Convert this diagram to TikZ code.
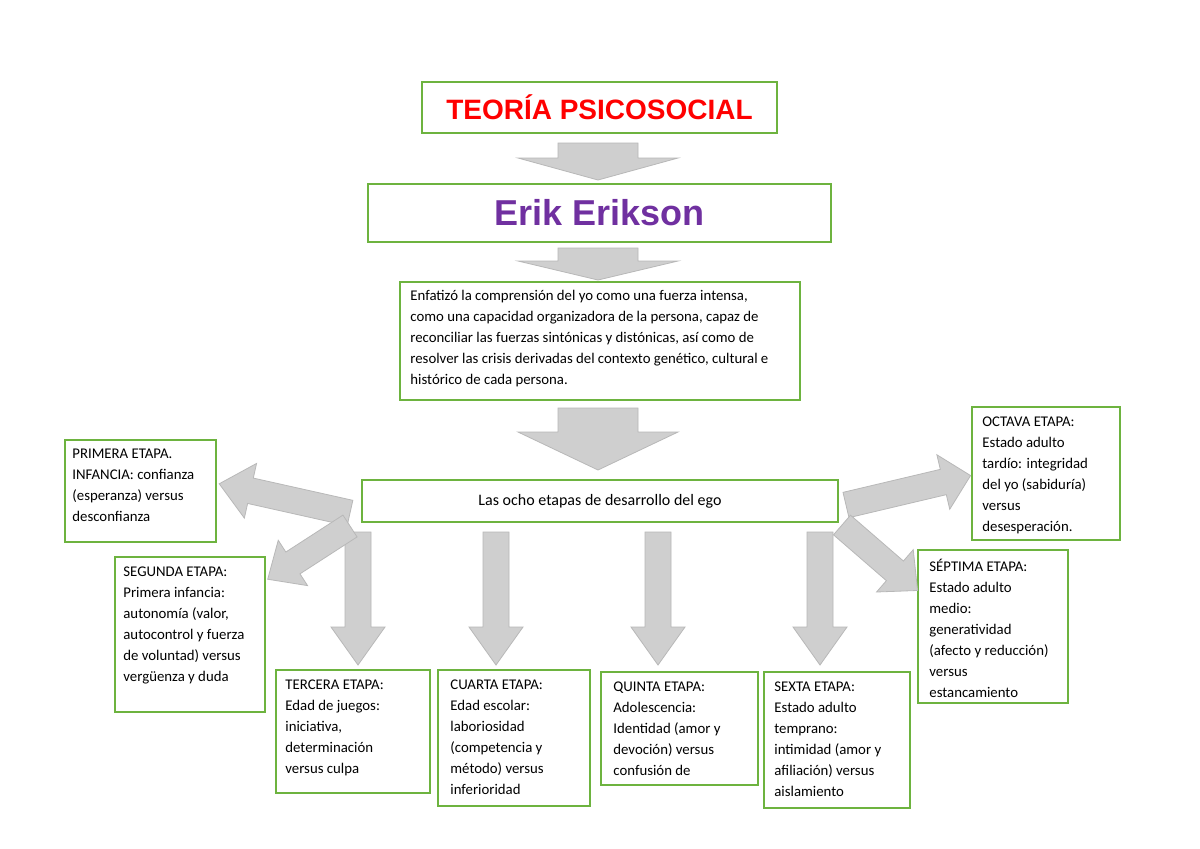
\documentclass[tikz,border=0pt]{standalone}
\usepackage{fontspec}
\setmainfont{Carlito}
\newfontfamily\arialf{Liberation Sans}
\begin{document}
\begin{tikzpicture}[x=0.5pt,y=-0.5pt,
  gbox/.style={draw=gr,line width=1pt,inner sep=0pt,minimum width=#1},
  txt/.style={anchor=north west,align=left,inner sep=0pt,font=\fontsize{7.4}{10.5}\selectfont},
  arr/.style={fill=ag,draw=ad,line width=0.4pt}]
\definecolor{gr}{HTML}{6DB33F}
\definecolor{ag}{HTML}{CFCFCF}
\definecolor{ad}{HTML}{B8B8B8}
\definecolor{pur}{HTML}{7030A0}
\useasboundingbox (0,0) rectangle (1200,848);
\fill[white] (0,0) rectangle (1200,848);
\newcommand\fatarr[7]{\begin{scope}[shift={(#1,#2)},rotate=#3]
\draw[arr] (0,-#5) -- ({#4-#7},-#5) -- ({#4-#7},-#6) -- (#4,0) -- ({#4-#7},#6) -- ({#4-#7},#5) -- (0,#5) -- cycle;\end{scope}}
% boxes
\node[gbox=177.5pt,minimum height=25.5pt] (title) at (599.5,107.5) {\arialf\bfseries\fontsize{14}{16}\selectfont\color{red}TEORÍA PSICOSOCIAL};
\node[gbox=231.5pt,minimum height=29pt] (erik) at (599.5,213) {\arialf\bfseries\fontsize{18}{20}\selectfont\color{pur}Erik Erikson};
\node[gbox=200pt,minimum height=59pt] (desc) at (600,341) {};
\node[txt] (desct) at (410,290) {Enfatizó la comprensión del yo como una fuerza intensa,\\como una capacidad organizadora de la persona, capaz de\\reconciliar las fuerzas sintónicas y distónicas, así como de\\resolver las crisis derivadas del contexto genético, cultural e\\histórico de cada persona.};
\node[gbox=238pt,minimum height=21pt] (ocho) at (600,501) {\fontsize{8}{10}\selectfont Las ocho etapas de desarrollo del ego};
\node[gbox=75.5pt,minimum height=51pt] (p1) at (140.5,491) {};
\node[txt] at (72,449) {PRIMERA ETAPA.\\INFANCIA: confianza\\(esperanza) versus\\desconfianza};
\node[gbox=75pt,minimum height=77.5pt] (p2) at (190,634.5) {};
\node[txt] at (123,566) {SEGUNDA ETAPA:\\Primera infancia:\\autonomía (valor,\\autocontrol y fuerza\\de voluntad) versus\\vergüenza y duda};
\node[gbox=77pt,minimum height=61.5pt] (p3) at (353,731.5) {};
\node[txt] at (285,679) {TERCERA ETAPA:\\Edad de juegos:\\iniciativa,\\determinación\\versus culpa};
\node[gbox=76pt,minimum height=68pt] (p4) at (514,738) {};
\node[txt] at (450,679) {CUARTA ETAPA:\\Edad escolar:\\laboriosidad\\(competencia y\\método) versus\\inferioridad};
\node[gbox=78.5pt,minimum height=56.5pt] (p5) at (679.5,728.5) {};
\node[txt] at (613,681) {QUINTA ETAPA:\\Adolescencia:\\Identidad (amor y\\devoción) versus\\confusión de};
\node[gbox=73pt,minimum height=68pt] (p6) at (837,740) {};
\node[txt] at (774,681) {SEXTA ETAPA:\\Estado adulto\\temprano:\\intimidad (amor y\\afiliación) versus\\aislamiento};
\node[gbox=75pt,minimum height=76.5pt] (p7) at (993,626.5) {};
\node[txt] at (929,559) {SÉPTIMA ETAPA:\\Estado adulto\\medio:\\generatividad\\(afecto y reducción)\\versus\\estancamiento};
\node[gbox=74pt,minimum height=66.5pt] (p8) at (1046,473.5) {};
\node[txt] at (982,416) {OCTAVA ETAPA:\\Estado adulto\\tardío: integridad\\del yo (sabiduría)\\versus\\desesperación.};
% arrows
\fatarr{598}{143}{-90}{37}{40}{80}{22}
\fatarr{598}{248}{-90}{32}{40}{80}{19}
\fatarr{598}{408}{-90}{62}{40}{80}{38}
\fatarr{358}{532}{-90}{133}{13}{27}{38}
\fatarr{496}{532}{-90}{133}{13}{27}{38}
\fatarr{658}{532}{-90}{133}{13}{27}{38}
\fatarr{820}{532}{-90}{133}{13}{27}{38}
\fatarr{350}{513}{167.4}{134}{13}{28}{32}
\fatarr{350}{526}{212.9}{98}{13}{27}{30}
\fatarr{846}{505}{13.3}{128}{13}{28}{28}
\fatarr{842}{525}{-40.9}{100}{13}{28}{30}
\end{tikzpicture}
\end{document}
